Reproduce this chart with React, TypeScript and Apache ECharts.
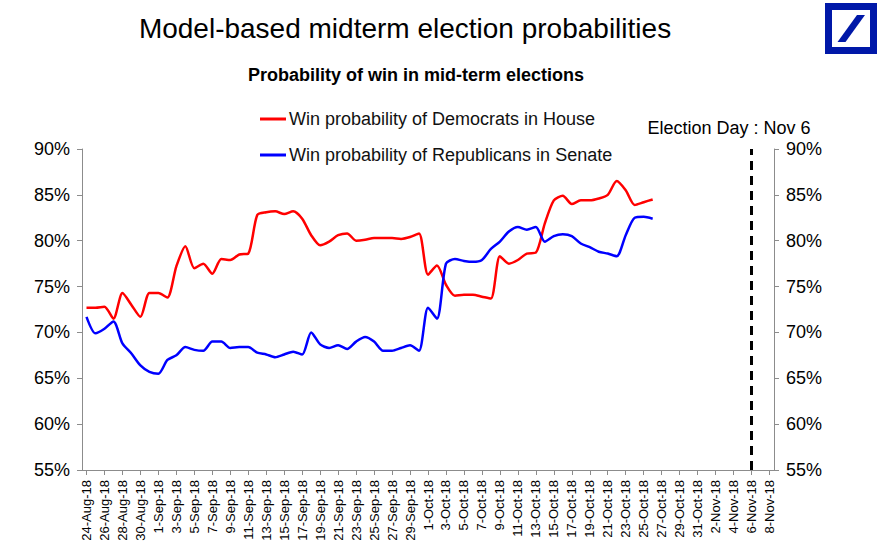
import React, { useEffect, useRef } from "react";
import * as echarts from "echarts";

const categories = [
  "24-Aug-18","25-Aug-18","26-Aug-18","27-Aug-18","28-Aug-18","29-Aug-18","30-Aug-18","31-Aug-18",
  "1-Sep-18","2-Sep-18","3-Sep-18","4-Sep-18","5-Sep-18","6-Sep-18","7-Sep-18","8-Sep-18","9-Sep-18","10-Sep-18",
  "11-Sep-18","12-Sep-18","13-Sep-18","14-Sep-18","15-Sep-18","16-Sep-18","17-Sep-18","18-Sep-18","19-Sep-18","20-Sep-18",
  "21-Sep-18","22-Sep-18","23-Sep-18","24-Sep-18","25-Sep-18","26-Sep-18","27-Sep-18","28-Sep-18","29-Sep-18","30-Sep-18",
  "1-Oct-18","2-Oct-18","3-Oct-18","4-Oct-18","5-Oct-18","6-Oct-18","7-Oct-18","8-Oct-18","9-Oct-18","10-Oct-18",
  "11-Oct-18","12-Oct-18","13-Oct-18","14-Oct-18","15-Oct-18","16-Oct-18","17-Oct-18","18-Oct-18","19-Oct-18","20-Oct-18",
  "21-Oct-18","22-Oct-18","23-Oct-18","24-Oct-18","25-Oct-18","26-Oct-18","27-Oct-18","28-Oct-18","29-Oct-18","30-Oct-18",
  "31-Oct-18","1-Nov-18","2-Nov-18","3-Nov-18","4-Nov-18","5-Nov-18","6-Nov-18","7-Nov-18","8-Nov-18"
];

const democratsHouse = [
  72.7, 72.7, 72.8, 71.5, 74.3, 73.0, 71.7, 74.3, 74.3, 73.8,
  77.2, 79.4, 77.0, 77.5, 76.4, 78.0, 77.9, 78.5, 78.6, 82.8,
  83.1, 83.2, 82.9, 83.2, 82.4, 80.6, 79.5, 79.9, 80.6, 80.8,
  80.0, 80.1, 80.3, 80.3, 80.3, 80.2, 80.4, 80.8, 76.3, 77.3,
  75.2, 74.0, 74.1, 74.1, 73.9, 73.7, 78.3, 77.5, 77.9, 78.6,
  78.7, 81.9, 84.4, 84.9, 84.0, 84.4, 84.4, 84.6, 85.0, 86.5,
  85.5, 83.9, 84.2, 84.5
];

const republicansSenate = [
  71.7, 69.9, 70.4, 71.2, 68.8, 67.7, 66.4, 65.7, 65.5, 67.0,
  67.5, 68.4, 68.1, 68.0, 69.0, 69.0, 68.3, 68.4, 68.4, 67.8,
  67.6, 67.3, 67.6, 67.9, 67.6, 70.0, 68.7, 68.3, 68.6, 68.2,
  69.0, 69.5, 69.0, 68.0, 68.0, 68.3, 68.6, 68.0, 72.7, 71.5,
  77.5, 78.0, 77.8, 77.7, 77.9, 79.1, 79.9, 81.0, 81.5, 81.2,
  81.5, 79.9, 80.5, 80.7, 80.5, 79.7, 79.3, 78.8, 78.6, 78.3,
  80.6, 82.5, 82.6, 82.4
];

const yTicks = { min: 55, max: 90, interval: 5 };
const electionDay = "6-Nov-18";

const FONT = "'Liberation Sans', Arial, sans-serif";

export default function App() {
  const ref = useRef<HTMLDivElement>(null);
  useEffect(() => {
    if (!ref.current) return;
    const chart = echarts.init(ref.current, null, { renderer: "svg" });
    const axisLineStyle = { color: "#8c8c8c", width: 1 };
    const yAxisCommon = {
      type: "value" as const,
      min: yTicks.min,
      max: yTicks.max,
      interval: yTicks.interval,
      splitLine: { show: false },
      axisLine: { show: true, lineStyle: axisLineStyle },
      axisTick: { show: true, length: 5, lineStyle: axisLineStyle },
      axisLabel: {
        formatter: "{value}%",
        fontSize: 18,
        fontFamily: FONT,
        color: "#000",
        margin: 12,
      },
    };
    chart.setOption({
      animation: false,
      backgroundColor: "#fff",
      textStyle: { fontFamily: FONT },
      grid: { left: 82, right: 116, top: 149, bottom: 90, containLabel: false },
      legend: {
        orient: "vertical",
        left: 260,
        top: 109,
        padding: 0,
        itemGap: 16,
        itemWidth: 26,
        itemHeight: 3,
        icon: "rect",
        textStyle: { fontSize: 18, fontFamily: FONT, color: "#111", lineHeight: 20, padding: [0, 0, 0, -2] },
        data: [
          { name: "Win probability of Democrats in House", itemStyle: { color: "#ff0000" } },
          { name: "Win probability of Republicans in Senate", itemStyle: { color: "#0000ff" } },
        ],
      },
      xAxis: {
        type: "category",
        data: categories,
        boundaryGap: true,
        axisLine: { show: true, lineStyle: axisLineStyle },
        axisTick: { show: true, interval: 1, alignWithLabel: true, length: 5, lineStyle: axisLineStyle },
        axisLabel: {
          interval: 1,
          rotate: 90,
          fontSize: 13,
          fontFamily: FONT,
          color: "#000",
          margin: 10,
        },
        splitLine: { show: false },
      },
      yAxis: [
        { ...yAxisCommon, position: "left" },
        { ...yAxisCommon, position: "right" },
      ],
      graphic: [
        {
          type: "text",
          x: 405,
          y: 28,
          style: {
            text: "Model-based midterm election probabilities",
            fontSize: 28,
            fontFamily: FONT,
            fill: "#000",
            align: "center",
            verticalAlign: "middle",
          },
        },
        {
          type: "text",
          x: 416,
          y: 75,
          style: {
            text: "Probability of win in mid-term elections",
            fontSize: 18,
            fontWeight: "bold",
            fontFamily: FONT,
            fill: "#000",
            align: "center",
            verticalAlign: "middle",
          },
        },
        {
          type: "text",
          x: 729,
          y: 128,
          style: {
            text: "Election Day : Nov 6",
            fontSize: 18,
            fontFamily: FONT,
            fill: "#000",
            align: "center",
            verticalAlign: "middle",
          },
        },
        {
          type: "rect",
          shape: { x: 828.5, y: 6.5, width: 45, height: 44 },
          style: { fill: "#fff", stroke: "#0018a8", lineWidth: 7 },
        },
        {
          type: "polygon",
          shape: { points: [[837.5, 42], [845.5, 42], [865, 15], [857, 15]] },
          style: { fill: "#0018a8" },
        },
      ],
      series: [
        {
          name: "Win probability of Democrats in House",
          type: "line",
          data: democratsHouse,
          showSymbol: false,
          symbol: "none",
          smooth: 0.25,
          lineStyle: { color: "#ff0000", width: 2.5 },
          itemStyle: { color: "#ff0000" },
          markLine: {
            silent: true,
            symbol: "none",
            label: { show: false },
            lineStyle: { color: "#000", width: 3, type: [9, 6] },
            data: [{ xAxis: electionDay }],
          },
        },
        {
          name: "Win probability of Republicans in Senate",
          type: "line",
          data: republicansSenate,
          showSymbol: false,
          symbol: "none",
          smooth: 0.25,
          lineStyle: { color: "#0000ff", width: 2.5 },
          itemStyle: { color: "#0000ff" },
        },
      ],
    });
    return () => chart.dispose();
  }, []);
  return (
    <div
      ref={ref}
      style={{ position: "absolute", left: 0, top: 0, width: 890, height: 560 }}
    />
  );
}
